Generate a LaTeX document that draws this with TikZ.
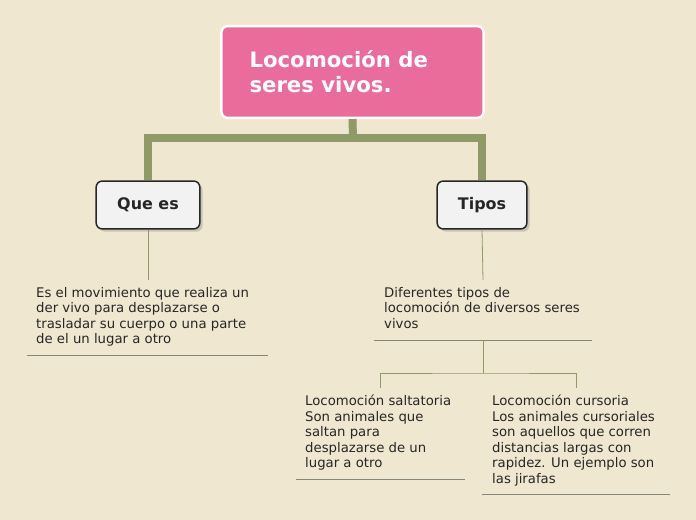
\documentclass[tikz,border=0pt]{standalone}
\usepackage{fontspec}
\setmainfont{DejaVu Sans}
\usetikzlibrary{positioning,shadows}
\definecolor{bgcol}{HTML}{EFE7D0}
\definecolor{pinkcol}{HTML}{E96C9B}
\definecolor{olivecol}{HTML}{8F9A68}
\definecolor{boxcol}{HTML}{F2F2F2}
\tikzstyle{title}=[draw=white, line width=2.5, fill=pinkcol, rounded corners=6, minimum width=263, minimum height=92, inner sep=0]
\tikzstyle{topic}=[draw=black!85, line width=1.5, fill=boxcol, rounded corners=6, minimum height=48, font=\fontsize{16}{19}\selectfont\bfseries, text=black!85, drop shadow={opacity=.35}]
\tikzstyle{bar}=[olivecol, line width=8]
\tikzstyle{thin}=[olivecol, line width=.8]
\tikzstyle{rule}=[gray!70!olivecol, line width=.8]
\tikzstyle{txt}=[anchor=north west, align=left, inner sep=0, font=\fontsize{13.3}{15.6}\selectfont, text=black!85]
\begin{document}
\begin{tikzpicture}[x=1bp, y=-1bp]
  \fill[bgcol] (0,0) rectangle (696,520);
  \useasboundingbox (0,0) rectangle (696,520);
  % title and topics
  \node[title] (root) at (352.5,72) {};
  \node[anchor=west, align=left, text=white, font=\fontsize{21.3}{25}\selectfont\bfseries] at (246,72) {Locomoción de\\seres vivos.};
  \node[topic, minimum width=104] (quees) at (148,205) {Que es};
  \node[topic, minimum width=90] (tipos) at (482,205) {Tipos};
  \coordinate (hub) at (353,138);
  \draw[bar] (root.south) -- (hub);
  \draw[bar] (quees.north) |- (hub) -| (tipos.north);
  % texts
  \node[txt] (defn) at (36,287) {Es el movimiento que realiza un\\der vivo para desplazarse o\\trasladar su cuerpo o una parte\\de el un lugar a otro};
  \node[txt] (kinds) at (384,287) {Diferentes tipos de\\locomoción de diversos seres\\vivos};
  \node[txt] (salt) at (305,395) {Locomoción saltatoria\\Son animales que\\saltan para\\desplazarse de un\\lugar a otro};
  \node[txt] (curs) at (492,395) {Locomoción cursoria\\Los animales cursoriales\\son aquellos que corren\\distancias largas con\\rapidez. Un ejemplo son\\las jirafas};
  \coordinate (defnrule) at (148,280);
  \coordinate (kindsrule) at (483,280);
  \draw[rule] (27,355) -- (268,355);
  \draw[rule] (374,340) -- (592,340);
  \draw[rule] (296,479) -- (465,479);
  \draw[rule] (482,494) -- (670,494);
  % connectors
  \draw[thin] (quees.south) -- (defnrule);
  \draw[thin] (tipos.south) -- (kindsrule);
  \coordinate (split) at (483,373);
  \coordinate (sl) at (380,388);
  \coordinate (cr) at (576,388);
  \draw[thin] (483,340) -- (split);
  \draw[thin] (sl) |- (split) -| (cr);
\end{tikzpicture}
\end{document}
